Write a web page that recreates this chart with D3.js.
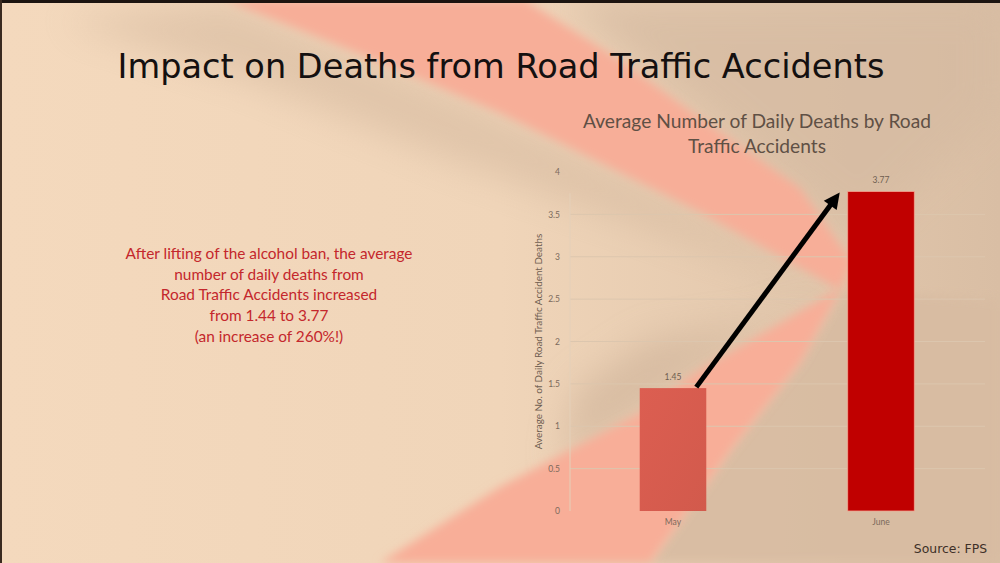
<!DOCTYPE html>
<html>
<head>
<meta charset="utf-8">
<script src="https://cdn.jsdelivr.net/npm/d3@7"></script>
<style>
  body { margin: 0; background: #000; }
  svg { display: block; }
</style>
</head>
<body>
<div id="chart"></div>
<script>
const months = ["May", "June"];
const deaths = [1.45, 3.77];
const yTicks = [0, 0.5, 1, 1.5, 2, 2.5, 3, 3.5, 4];
const barColors = ["#d95b4f", "#c00000"];
const noteLines = [
  "After lifting of the alcohol ban, the average",
  "number of daily deaths from",
  "Road Traffic Accidents increased",
  "from 1.44 to 3.77",
  "(an increase of 260%!)"
];
const chartTitle = ["Average Number of Daily Deaths by Road", "Traffic Accidents"];

const width = 1000, height = 563;

const svg = d3.select("#chart").append("svg")
  .attr("width", width)
  .attr("height", height);

const defs = svg.append("defs");

const bg = defs.append("linearGradient").attr("id", "bg").attr("x1", 0).attr("x2", 1).attr("y1", 0).attr("y2", 0);
bg.append("stop").attr("offset", 0).attr("stop-color", "#f4d9bd");
bg.append("stop").attr("offset", 0.5).attr("stop-color", "#f0d5b9");
bg.append("stop").attr("offset", 1).attr("stop-color", "#d9bea4");

defs.append("filter").attr("id", "soft").attr("x", -0.2).attr("y", -0.2).attr("width", 1.4).attr("height", 1.4)
  .append("feGaussianBlur").attr("stdDeviation", 5);
defs.append("filter").attr("id", "wide").attr("x", -0.3).attr("y", -0.3).attr("width", 1.6).attr("height", 1.6)
  .append("feGaussianBlur").attr("stdDeviation", 18);

const mayGrad = defs.append("linearGradient").attr("id", "mayGrad").attr("x1", 0).attr("x2", 1).attr("y1", 0).attr("y2", 1);
mayGrad.append("stop").attr("offset", 0).attr("stop-color", "#dc5e51");
mayGrad.append("stop").attr("offset", 1).attr("stop-color", "#d25a4c");

// background
svg.append("rect").attr("width", width).attr("height", height).attr("fill", "url(#bg)");

const deco = svg.append("g");
// darker tan shading
deco.append("path")
  .attr("d", "M560,0 L1000,0 L1000,110 L860,240 Z")
  .attr("fill", "#d6bba2").attr("opacity", 0.8).attr("filter", "url(#wide)");
deco.append("path")
  .attr("d", "M60,20 L230,0 L500,113 L840,290 L700,245 L450,160 L250,80 Z")
  .attr("fill", "#cdb197").attr("opacity", 0.45).attr("filter", "url(#wide)");
deco.append("path")
  .attr("d", "M560,470 L640,413 L700,370 L840,285 L760,325 L650,340 L575,390 Z")
  .attr("fill", "#c9ad94").attr("opacity", 0.55).attr("filter", "url(#wide)");
deco.append("path")
  .attr("d", "M650,563 L733,447 L800,363 L845,290 L1000,300 L1000,563 Z")
  .attr("fill", "#d8bca2").attr("opacity", 0.9).attr("filter", "url(#soft)");
// pink ribbons
deco.append("path")
  .attr("d", "M225,0 L525,0 L620,60 L700,118 L800,188 L852,262 L840,290 L700,212 L500,113 L380,62 Z")
  .attr("fill", "#f7ae98").attr("filter", "url(#soft)");
deco.append("path")
  .attr("d", "M380,563 L500,487 L640,413 L700,370 L842,287 L800,363 L733,447 L650,563 Z")
  .attr("fill", "#f8ae98").attr("filter", "url(#soft)");

// frame
svg.append("rect").attr("x", 0).attr("y", 0).attr("width", width).attr("height", 3).attr("fill", "#1c1410");
svg.append("rect").attr("x", 0).attr("y", 0).attr("width", 2).attr("height", height).attr("fill", "#3a2a20");

// slide title
svg.append("text")
  .attr("x", 501).attr("y", 78)
  .attr("text-anchor", "middle")
  .attr("font-family", "DejaVu Sans")
  .attr("font-size", 33.6)
  .attr("fill", "#141010")
  .text("Impact on Deaths from Road Traffic Accidents");

// note text
svg.append("g").selectAll("text").data(noteLines).join("text")
  .attr("x", 269).attr("y", (d, i) => 259 + i * 20.7)
  .attr("text-anchor", "middle")
  .attr("font-family", "Lato")
  .attr("font-size", 15.4)
  .attr("fill", "#c4272c")
  .text(d => d);

// chart
const x = d3.scaleBand().domain(months).range([569, 985]).paddingInner(0.68).paddingOuter(0.34);
const y = d3.scaleLinear().domain([0, 4]).range([511, 172]);

svg.append("g").selectAll("text").data(chartTitle).join("text")
  .attr("x", 757).attr("y", (d, i) => 128 + i * 25)
  .attr("text-anchor", "middle")
  .attr("font-family", "Lato")
  .attr("font-size", 19.2)
  .attr("fill", "#5f5045")
  .text(d => d);

const grid = svg.append("g");
grid.selectAll("line").data(yTicks.filter(t => t > 0 && t < 4)).join("line")
  .attr("x1", 570).attr("x2", 985)
  .attr("y1", d => y(d)).attr("y2", d => y(d))
  .attr("stroke", "#dcc6ae").attr("stroke-width", 1);
grid.append("line")
  .attr("x1", 570).attr("x2", 570).attr("y1", y(3.75)).attr("y2", y(0))
  .attr("stroke", "#e4d0b9").attr("stroke-width", 1);

const yAxis = svg.append("g")
  .attr("transform", "translate(560,0)")
  .call(d3.axisLeft(y).tickValues(yTicks).tickSize(0).tickPadding(0).tickFormat(d3.format("")));
yAxis.select(".domain").remove();
yAxis.selectAll("text")
  .attr("font-family", "Lato").attr("font-size", 8.5).attr("fill", "#7b6a5c");

svg.append("text")
  .attr("transform", `translate(542,${y(2)}) rotate(-90)`)
  .attr("text-anchor", "middle")
  .attr("font-family", "Lato").attr("font-size", 9.9).attr("fill", "#6e5d50")
  .text("Average  No. of Daily Road Traffic Accident Deaths");

const xAxis = svg.append("g")
  .attr("transform", `translate(0,${y(0) + 8})`)
  .call(d3.axisBottom(x).tickSize(0).tickPadding(0));
xAxis.select(".domain").remove();
xAxis.selectAll("text")
  .attr("font-family", "Lato").attr("font-size", 8.5).attr("fill", "#7b6a5c");

svg.append("g").selectAll("rect").data(months).join("rect")
  .attr("x", d => x(d))
  .attr("y", (d, i) => y(deaths[i]))
  .attr("width", x.bandwidth())
  .attr("height", (d, i) => y(0) - y(deaths[i]))
  .attr("fill", (d, i) => i === 0 ? "url(#mayGrad)" : barColors[i])
  .attr("stroke", (d, i) => i === 0 ? "none" : "#f2a38f")
  .attr("stroke-width", 0.8);

svg.append("g").selectAll("text").data(months).join("text")
  .attr("x", d => x(d) + x.bandwidth() / 2)
  .attr("y", (d, i) => y(deaths[i]) - 8)
  .attr("text-anchor", "middle")
  .attr("font-family", "Lato").attr("font-size", 8.5).attr("fill", "#6e5d50")
  .text((d, i) => deaths[i].toFixed(2));

// arrow from May bar to June bar
const x0 = x("May") + x.bandwidth() * 0.85, y0 = y(deaths[0]) - 1;
const x1 = x("June") - 8, y1 = y(deaths[1]) + 1;
const ang = Math.atan2(y1 - y0, x1 - x0);
const headLen = 16, headW = 8;
const bx = x1 - headLen * Math.cos(ang), by = y1 - headLen * Math.sin(ang);
svg.append("line")
  .attr("x1", x0).attr("y1", y0).attr("x2", bx + 2 * Math.cos(ang)).attr("y2", by + 2 * Math.sin(ang))
  .attr("stroke", "#000").attr("stroke-width", 5);
svg.append("path")
  .attr("d", d3.line()([
    [x1, y1],
    [bx + headW * Math.sin(ang), by - headW * Math.cos(ang)],
    [bx - headW * Math.sin(ang), by + headW * Math.cos(ang)]
  ]) + "Z")
  .attr("fill", "#000");

svg.append("text")
  .attr("x", 987).attr("y", 553)
  .attr("text-anchor", "end")
  .attr("font-family", "DejaVu Sans")
  .attr("font-size", 12.4)
  .attr("fill", "#3e3028")
  .text("Source: FPS");
</script>
</body>
</html>
